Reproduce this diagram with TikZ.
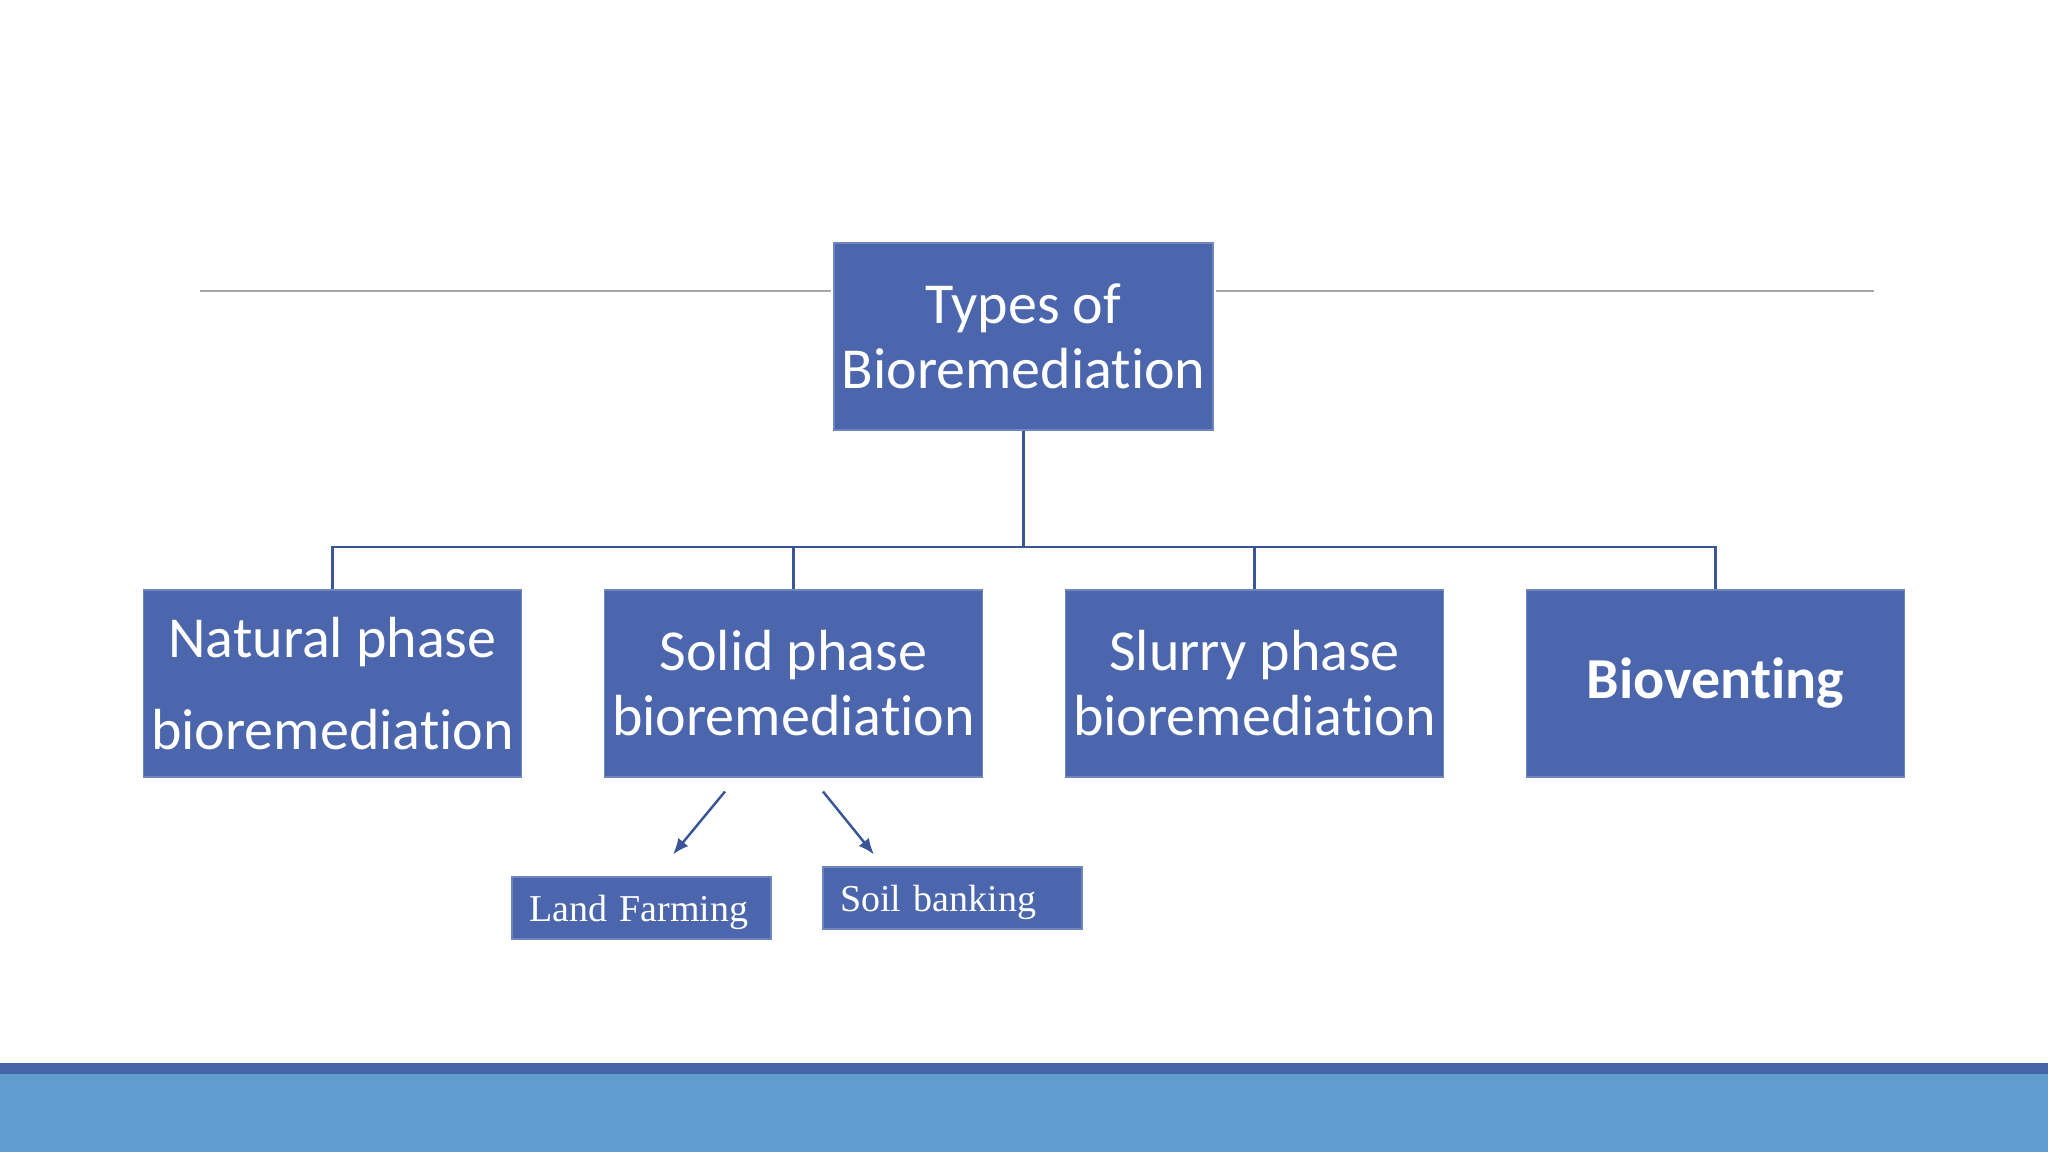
\documentclass[tikz,border=0pt]{standalone}
\usepackage{fontspec}
\setmainfont{Carlito}[RawFeature={-liga;-clig;-dlig;-calt}]
\newfontfamily\serifbox{Liberation Serif}
\usepackage{xcolor}
\usepackage{tikz}
\usetikzlibrary{arrows.meta, positioning, calc}
\definecolor{boxblue}{HTML}{4B66AD}
\definecolor{linkblue}{HTML}{3A5696}
\definecolor{bandblue}{HTML}{4565A8}
\definecolor{footblue}{HTML}{619CCF}
\definecolor{rulegray}{HTML}{A6A6A6}

\begin{document}
\begin{tikzpicture}[
    typebox/.style={fill=boxblue, draw=boxblue!80!white, line width=0.3pt,
                    text=white, minimum width=3.78cm, minimum height=1.87cm,
                    inner sep=0pt, align=center,
                    font=\fontsize{16.5}{18.5}\selectfont},
    subbox/.style={fill=boxblue, draw=boxblue!80!white, line width=0.3pt,
                   text=white, minimum height=0.62cm, text width=2.25cm,
                   inner xsep=0.17cm, inner ysep=0pt, align=left, text depth=0pt,
                   font=\serifbox\fontsize{10.8}{12}\selectfont},
    link/.style={draw=linkblue, line width=0.7pt},
    >={Latex[length=1.6mm, width=1.3mm]}
  ]
    \useasboundingbox (0,0) rectangle (20.48,-11.52);

    \fill[bandblue] (0,-10.63) rectangle (20.48,-10.74);
    \fill[footblue] (0,-10.74) rectangle (20.48,-11.52);

    \node[typebox, minimum width=3.79cm] (types) at (10.235,-3.365)
      {Types of\\Bioremediation};
    \node[typebox, font=\fontsize{16.5}{26}\selectfont] (natural) at (3.325,-6.835)
      {Natural phase\\bioremediation};
    \node[typebox] (solid) at (7.935,-6.835)
      {Solid phase\\bioremediation};
    \node[typebox] (slurry) at (12.545,-6.835)
      {Slurry phase\\bioremediation};
    \node[typebox, font=\bfseries\fontsize{16.5}{18.5}\selectfont] (bioventing)
      at (17.155,-6.835) {Bioventing};
    \node[subbox] (land) at (6.415,-9.08) {Land Farming};
    \node[subbox] (soil) at (9.525,-8.98) {Soil banking};

    \coordinate (ruleL) at (2.00,-2.91);
    \coordinate (ruleR) at (18.74,-2.91);
    \coordinate (bus) at (10.235,-5.47);

    \draw[rulegray, line width=0.45pt] (ruleL) -- ($(ruleL -| types.west)+(-0.02,0)$);
    \draw[rulegray, line width=0.45pt] ($(ruleR -| types.east)+(0.02,0)$) -- (ruleR);

    \draw[link] (types.south) -- (bus);
    \draw[link] (bus) -| (natural.north);
    \draw[link] (bus) -| (solid.north);
    \draw[link] (bus) -| (slurry.north);
    \draw[link] (bus) -| (bioventing.north);

    \draw[link, ->] ($(solid.south)+(-0.685,-0.14)$) -- ($(land.north)+(0.315,0.22)$);
    \draw[link, ->] ($(solid.south)+(0.295,-0.14)$) -- ($(soil.north)+(-0.785,0.12)$);
  \end{tikzpicture}
\end{document}
